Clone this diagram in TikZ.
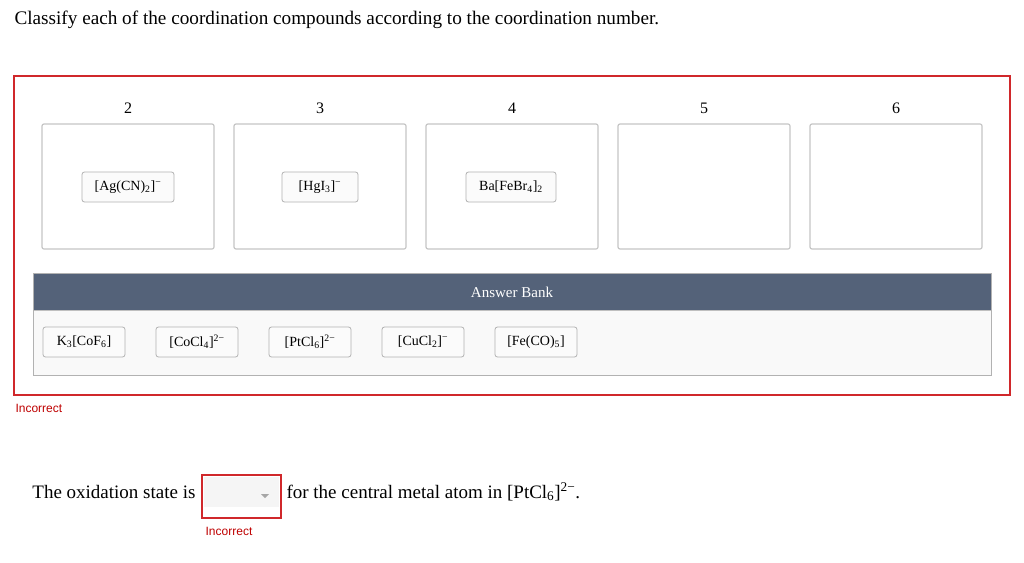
\documentclass[tikz,border=0pt]{standalone}
\usepackage{fontspec}
\setmainfont{Liberation Serif}
\newfontfamily\uisans{Liberation Sans}
\newcommand{\sbs}[1]{\textsubscript{#1}}
\newcommand{\sps}[1]{\textsuperscript{#1}}
\begin{document}
\begin{tikzpicture}[x=1pt,y=-1pt,
  dropbox/.style={draw=gray!45,line width=1.2pt,rounded corners=2pt,fill=white},
  chip/.style={draw=gray!60,line width=0.8pt,rounded corners=2.5pt,fill=white!97!gray,font=\fontsize{14}{16}\selectfont},
  hdr/.style={font=\fontsize{16}{18}\selectfont},
  bad/.style={text=red!75!black,font=\uisans\fontsize{12}{14}\selectfont}]
\definecolor{bankhead}{HTML}{546279}
\definecolor{errred}{HTML}{D0282B}
\useasboundingbox[fill=white] (0,0) rectangle (1024,562);
\node[anchor=west,font=\fontsize{19.2}{22}\selectfont] (title) at (11,20) {Classify each of the coordination compounds according to the coordination number.};
\draw[errred,line width=1.5pt] (14,76) rectangle (1010,395);
\foreach \n/\x in {2/42,3/234,4/426,5/618,6/810}{
  \node[hdr] (h\n) at (\x+86,108) {\n};
  \draw[dropbox] (\x,124) rectangle (\x+172,249);
}
\node[chip,minimum width=92pt,minimum height=30pt] (ag) at (128,187) {[Ag(CN)\sbs{2}]\sps{−}};
\node[chip,minimum width=76pt,minimum height=30pt] (hg) at (320,187) {[HgI\sbs{3}]\sps{−}};
\node[chip,minimum width=90pt,minimum height=30pt] (ba) at (511,187) {Ba[FeBr\sbs{4}]\sbs{2}};
\fill[bankhead] (33,273) rectangle (991,310);
\node[text=white,font=\fontsize{15}{17}\selectfont] (bank) at (512,292) {Answer Bank};
\draw[gray!50,fill=gray!5] (33,310) rectangle (991,375);
\draw[gray!60] (33,273) rectangle (991,375);
\node[chip,minimum width=82pt,minimum height=30pt] (c1) at (84,342) {K\sbs{3}[CoF\sbs{6}]};
\node[chip,minimum width=82pt,minimum height=30pt] (c2) at (197,342) {[CoCl\sbs{4}]\sps{2−}};
\node[chip,minimum width=82pt,minimum height=30pt] (c3) at (310,342) {[PtCl\sbs{6}]\sps{2−}};
\node[chip,minimum width=82pt,minimum height=30pt] (c4) at (423,342) {[CuCl\sbs{2}]\sps{−}};
\node[chip,minimum width=82pt,minimum height=30pt] (c5) at (536,342) {[Fe(CO)\sbs{5}]};
\node[bad,anchor=west] (inc1) at (12,408) {Incorrect};
\node[anchor=east,font=\fontsize{19}{22}\selectfont] (s1) at (199,492) {The oxidation state is};
\fill[gray!8] (204,477) rectangle (279,507);
\draw[errred,line width=1.5pt] (202,475) rectangle (281,518);
\fill[gray!70] (261,494) -- (269,494) -- (265,498) -- cycle;
\node[anchor=west,font=\fontsize{19}{22}\selectfont] (s2) at (283,492) {for the central metal atom in [PtCl\sbs{6}]\sps{2−}.};
\node[bad] (inc2) at (229,531) {Incorrect};
\end{tikzpicture}
\end{document}
